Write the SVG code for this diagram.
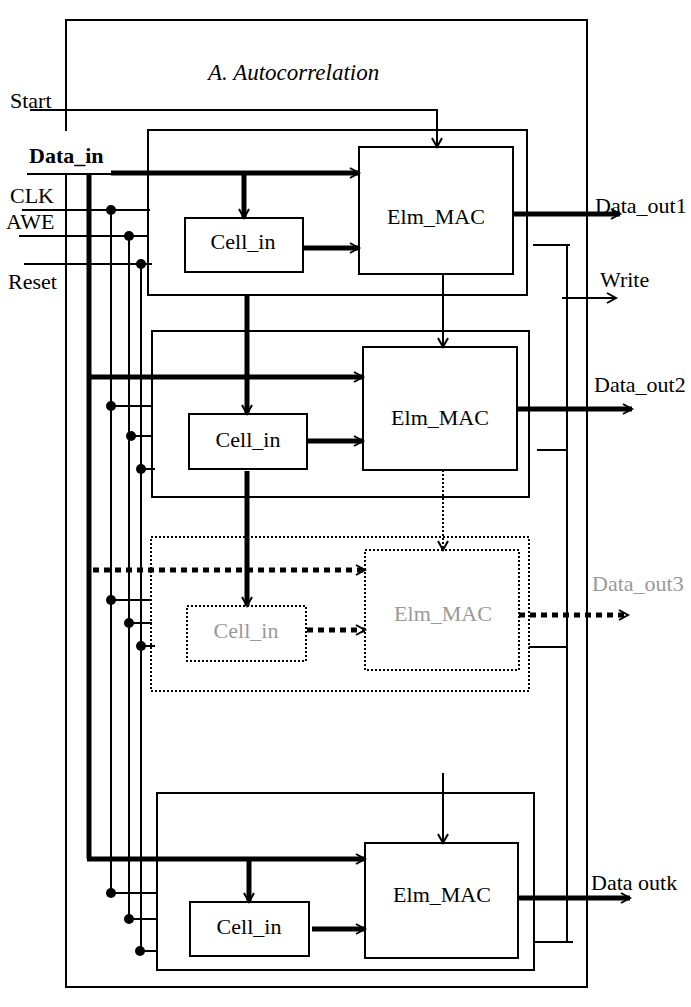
<svg xmlns="http://www.w3.org/2000/svg" width="691" height="1007" viewBox="0 0 691 1007">
<style>
.box{fill:none;stroke:#000;stroke-width:2}
.dbox{fill:none;stroke:#000;stroke-width:2;stroke-dasharray:2,2}
.thin{fill:none;stroke:#000;stroke-width:2}
.thick{fill:none;stroke:#000;stroke-width:5}
.dthick{fill:none;stroke:#000;stroke-width:5;stroke-dasharray:6,5}
.dthin{fill:none;stroke:#000;stroke-width:2;stroke-dasharray:2,2}
.t{font-family:'Liberation Serif','Times New Roman',serif;font-size:22px}
.m{text-anchor:middle}
</style>
<defs>
<marker id="ah" markerUnits="userSpaceOnUse" markerWidth="12" markerHeight="12" refX="9" refY="5" orient="auto" overflow="visible">
<path d="M0,0 L9,5 L0,10" fill="none" stroke="#000" stroke-width="2"/>
</marker>
</defs>
<rect width="691" height="1007" fill="#fff"/>

<g id="outer">
<path class="box" d="M66,131 V20 H587 V987 H66 V174"/>
</g>
<g id="title">
<text class="t" x="208" y="80" style="font-style:italic;font-size:23px">A. Autocorrelation</text>
</g>

<g id="labels-in">
<text class="t" x="10" y="108">Start</text>
<text class="t" x="29" y="163" font-weight="bold">Data_in</text>
<text class="t" x="10" y="203">CLK</text>
<text class="t" x="6" y="229">AWE</text>
<text class="t" x="8" y="289">Reset</text>
</g>

<g id="labels-out">
<text class="t" x="595" y="213">Data_out1</text>
<text class="t" x="600" y="287">Write</text>
<text class="t" x="594" y="392">Data_out2</text>
<text class="t" x="592" y="591" fill="#999">Data_out3</text>
<text class="t" x="591" y="890">Data outk</text>
</g>

<g id="block1">
<rect class="box" x="148" y="130" width="379" height="165"/>
<g id="elm1"><rect class="box" x="359" y="147" width="154" height="127"/><text class="t m" x="436" y="224">Elm_MAC</text></g>
<g id="cell1"><rect class="box" x="185" y="218" width="118" height="54"/><text class="t m" x="243" y="249">Cell_in</text></g>
</g>

<g id="block2">
<rect class="box" x="152" y="331" width="377" height="166"/>
<g id="elm2"><rect class="box" x="363" y="347" width="154" height="123"/><text class="t m" x="440" y="425">Elm_MAC</text></g>
<g id="cell2"><rect class="box" x="189" y="414" width="118" height="55"/><text class="t m" x="248" y="447">Cell_in</text></g>
</g>

<g id="block3">
<rect class="dbox" x="151" y="537" width="378" height="154"/>
<g id="elm3"><rect class="dbox" x="365" y="550" width="154" height="120"/><text class="t m" x="443" y="621" fill="#999">Elm_MAC</text></g>
<g id="cell3"><rect class="dbox" x="187" y="606" width="119" height="55"/><text class="t m" x="246" y="638" fill="#999">Cell_in</text></g>
</g>

<g id="block4">
<rect class="box" x="157" y="793" width="377" height="177"/>
<g id="elm4"><rect class="box" x="365" y="843" width="153" height="115"/><text class="t m" x="442" y="902">Elm_MAC</text></g>
<g id="cell4"><rect class="box" x="190" y="902" width="119" height="54"/><text class="t m" x="249" y="934">Cell_in</text></g>
</g>

<g id="connectors">
<path class="thin" d="M30,110 H437 V147" marker-end="url(#ah)"/>
<path class="thin" d="M27,174 H111"/>
<path class="thick" d="M89,174 V859"/>
<path class="thick" d="M111,173 H359" marker-end="url(#ah)"/>
<path class="thick" d="M244,173 V218" marker-end="url(#ah)"/>
<path class="thick" d="M303,248 H359" marker-end="url(#ah)"/>
<path class="thick" d="M89,377 H363" marker-end="url(#ah)"/>
<path class="thick" d="M247,295 V414" marker-end="url(#ah)"/>
<path class="thick" d="M307,441 H363" marker-end="url(#ah)"/>
<path class="thick" d="M247,471 V606" marker-end="url(#ah)"/>
<path class="dthick" d="M93,570 H365" marker-end="url(#ah)"/>
<path class="dthick" d="M307,630 H365" marker-end="url(#ah)"/>
<path class="thick" d="M87,859 H365" marker-end="url(#ah)"/>
<path class="thick" d="M249,859 V902" marker-end="url(#ah)"/>
<path class="thick" d="M312,929 H365" marker-end="url(#ah)"/>
<path class="thin" d="M443,274 V347" marker-end="url(#ah)"/>
<path class="dthin" d="M443,470 V550" marker-end="url(#ah)"/>
<path class="thin" d="M443,773 V843" marker-end="url(#ah)"/>
<path class="thick" d="M513,214 H620" marker-end="url(#ah)"/>
<path class="thick" d="M517,409 H632" marker-end="url(#ah)"/>
<path class="dthick" d="M519,615 H628" marker-end="url(#ah)"/>
<path class="thick" d="M518,898 H630" marker-end="url(#ah)"/>
<path class="thin" d="M533,245 H570 M567,245 V942"/>
<path class="thin" d="M537,450 H567"/>
<path class="thin" d="M529,647 H567"/>
<path class="thin" d="M535,942 H573"/>
<path class="thin" d="M562,298 H616" marker-end="url(#ah)"/>
<path class="thin" d="M22,210 H150 M19,236 H147 M24,264 H152"/>
<path class="thin" d="M111,210 V893 M129,236 V919 M141,264 V951"/>
<path class="thin" d="M111,406 H152 M129,436 H152 M141,469 H155"/>
<path class="thin" d="M111,600 H152 M129,623 H152 M141,646 H155"/>
<path class="thin" d="M111,893 H157 M129,919 H157 M141,951 H157"/>
<g fill="#000">
<circle cx="111" cy="210" r="5"/><circle cx="129" cy="236" r="5"/><circle cx="141" cy="264" r="5"/>
<circle cx="111" cy="406" r="5"/><circle cx="131" cy="436" r="5"/><circle cx="141" cy="469" r="5"/>
<circle cx="111" cy="600" r="5"/><circle cx="129" cy="623" r="5"/><circle cx="141" cy="646" r="5"/>
<circle cx="111" cy="893" r="5"/><circle cx="129" cy="919" r="5"/><circle cx="140" cy="951" r="5"/>
</g>
</g>
</svg>
